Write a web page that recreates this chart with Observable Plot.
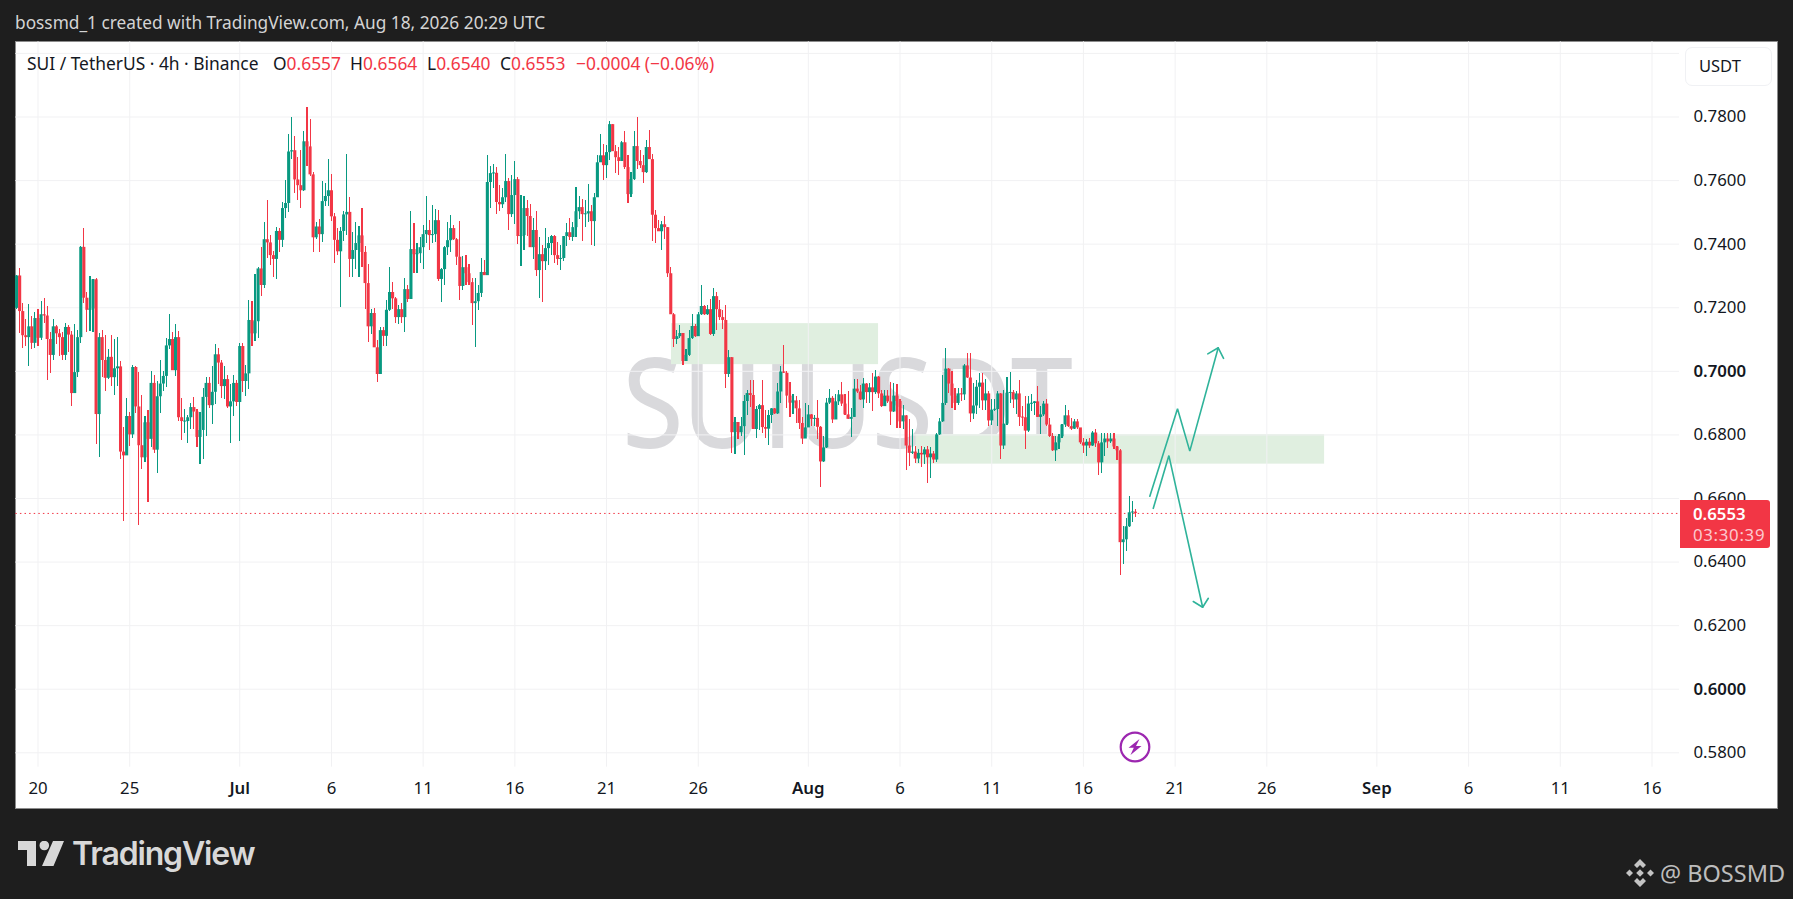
<!DOCTYPE html>
<html><head><meta charset="utf-8">
<script src="https://cdn.jsdelivr.net/npm/d3@7"></script>
<script src="https://cdn.jsdelivr.net/npm/@observablehq/plot@0.6"></script>
<style>
html,body{margin:0;padding:0;background:#1e1e1e;width:1793px;height:899px;overflow:hidden;font-family:"Noto Sans",sans-serif}
.abs{position:absolute;white-space:pre}
#pane{position:absolute;left:15px;top:41px;width:1763px;height:768px;box-sizing:border-box;background:#fff;border:1px solid #8c8c8c;border-width:1px 0 1px 1px}
#pane2{position:absolute;left:1777px;top:41px;width:1px;height:768px;background:#8c8c8c}
#wm{position:absolute;left:623px;top:318px;font:400 122px "Open Sans",sans-serif;color:#d9d9dc;-webkit-text-stroke:2px #d9d9dc;transform:scaleX(.895);transform-origin:0 0;line-height:1.36}
#chart{position:absolute;left:0;top:0}
.lg{top:52px;font-size:17.4px;line-height:22px;color:#131722}
.rd{color:#f23645}
</style></head><body>
<div id="pane"></div><div id="pane2"></div>
<div id="wm">SUIUSDT</div>
<div id="chart"></div>
<div class="abs" style="left:15px;top:10px;font-size:17.3px;line-height:26px;color:#d4d4d4">bossmd_1 created with TradingView.com, Aug 18, 2026 20:29 UTC</div>
<div class="abs lg" style="left:27px">SUI / TetherUS · 4h · Binance</div>
<div class="abs lg" style="left:273px">O<span class="rd">0.6557</span></div>
<div class="abs lg" style="left:350px">H<span class="rd">0.6564</span></div>
<div class="abs lg" style="left:427px">L<span class="rd">0.6540</span></div>
<div class="abs lg" style="left:500px">C<span class="rd">0.6553</span></div>
<div class="abs lg rd" style="left:576px">−0.0004 (−0.06%)</div>
<div class="abs" style="left:1685px;top:47px;width:85px;height:37px;border:1px solid #f0f1f4;border-radius:7px;background:#fff"></div>
<div class="abs" style="left:1699px;top:54px;font-size:16.5px;line-height:23px;color:#131722">USDT</div>
<div class="abs" style="left:1680px;top:500px;width:90px;height:48px;background:#f23645;border-radius:0 3px 3px 0"></div>
<div class="abs" style="left:1693px;top:502px;font-size:16.8px;line-height:23px;font-weight:600;color:#fff">0.6553</div>
<div class="abs" style="left:1693px;top:523px;font-size:16.8px;line-height:23px;letter-spacing:.7px;color:#fcc8cf">03:30:39</div>
<svg class="abs" style="left:1119px;top:731px" width="32" height="32" viewBox="0 0 32 32"><circle cx="16" cy="16" r="14.3" fill="#fff" stroke="#9c27b0" stroke-width="2.2"/><path d="M20.500 8 L9.500 16.800 L14.800 16.800 L11.500 24 L22.500 15 L17 15 Z" fill="#9c27b0"/></svg>
<svg class="abs" style="left:18px;top:841px" width="46" height="25" viewBox="0 0 46 25"><path d="M0 0H18V25H9V9H0Z M21.500 4.500 a4.800 4.800 0 1 0 9.600 0 a4.800 4.800 0 1 0 -9.600 0 Z M35 0H46L35.500 25H24Z" fill="#d8d8d8"/></svg>
<div class="abs" style="left:72px;top:832px;font:600 32px Inter,sans-serif;line-height:44px;letter-spacing:-1.15px;color:#d8d8d8">TradingView</div>
<svg class="abs" style="left:1626px;top:859px" width="28" height="28" viewBox="0 0 28 28"><g fill="#c4c4c4"><path d="M14 0l6 6-3 3-3-3-3 3-3-3z"/><path d="M14 28l6-6-3-3-3 3-3-3-3 3z"/><path d="M14 10.200l3.800 3.800-3.800 3.800-3.800-3.800z"/><path d="M3.500 10.500l3.500 3.500-3.500 3.500-3.500-3.500z"/><path d="M24.500 10.500l3.500 3.500-3.500 3.500-3.500-3.500z"/></g></svg>
<div class="abs" style="left:1660px;top:856px;font-size:23.5px;line-height:34px;color:#bdbdbd">@ BOSSMD</div>
<script>
// Candles: 4h, prices in ten-thousandths of a USDT, each open is the previous close
const firstOpen = 7198;
const close = [
7300,7188,7112,7106,7140,7088,7166,7104,7178,7174,7100,7050,7140,7118,7106,7050,7138,7114,6930,6996,7106,7390,7230,7192,7196,7288,6864,7106,7034,6978,7044,6980,7008,7014,6746,6734,6858,6800,7012,6888,6766,6728,6838,6786,6962,6752,6920,6960,6984,7080,7100,7002,7106,6854,6842,6842,6854,6886,6872,6792,6814,6918,6962,6892,6934,7052,7026,6952,6974,6888,6904,6962,6902,7078,6968,6992,7160,7118,7156,7322,7270,7414,7404,7364,7352,7440,7412,7512,7528,7690,7694,7602,7584,7568,7722,7706,7618,7420,7454,7430,7534,7550,7568,7486,7412,7376,7440,7492,7500,7352,7380,7402,7426,7374,7276,7140,7182,7074,6990,7128,7110,7192,7248,7228,
7169,7194,7169,7257,7226,7383,7367,7370,7389,7430,7443,7427,7430,7474,7289,7320,7389,7411,7449,7414,7359,7267,7326,7307,7279,7213,7219,7245,7311,7301,7594,7622,7623,7531,7524,7546,7597,7493,7553,7603,7424,7427,7512,7487,7389,7443,7317,7367,7345,7386,7402,7424,7364,7352,7355,7424,7436,7421,7452,7502,7515,7493,7495,7502,7471,7546,7656,7678,7647,7688,7776,7691,7672,7660,7719,7641,7556,7603,7707,7660,7647,7625,7704,7666,7491,7449,7439,7461,7452,7307,7178,7100,7109,7119,7031,7050,7103,7141,7109,7178,7204,7178,7194,7116,7235,7194,7169,7160,6990,7043,6807,6839,6807,6826,6905,6930,6924,6817,6880,6892,6823,6818,6861,
6882,6866,6935,6998,6994,6922,6900,6907,6882,6836,6787,6822,6863,6849,6852,6824,6715,6759,6900,6915,6847,6904,6926,6897,6863,6849,6855,6944,6935,6910,6960,6933,6948,6933,6982,6929,6889,6922,6904,6872,6922,6905,6841,6860,6765,6742,6746,6724,6742,6737,6753,6728,6740,6721,6800,6841,6899,7007,6960,6922,6899,6929,6926,7017,6979,6866,6891,6950,6963,6907,6929,6844,6878,6880,6929,6765,6834,6931,6933,6910,6929,6855,6854,6812,6897,6899,6904,6855,6863,6897,6831,6795,6750,6775,6794,6831,6860,6826,6818,6841,6822,6775,6765,6777,6765,6806,6772,6712,6775,6787,6778,6787,6762,6750,6461,6470,6511,6555,6557,6553];
const high = [
7302,7324,7214,7162,7210,7174,7184,7196,7220,7228,7204,7122,7164,7144,7132,7122,7150,7144,7124,7146,7128,7392,7448,7248,7298,7290,7292,7118,7128,7114,7068,7112,7100,7106,7032,6822,6914,6870,7018,7014,6996,6924,6858,6876,7000,6986,6968,7034,7000,7104,7178,7122,7148,7124,6914,6880,6860,6900,6918,6880,6872,6946,6982,6982,7014,7084,7072,7034,7014,6986,6958,6986,6970,7088,7088,7018,7222,7220,7304,7326,7390,7468,7536,7426,7376,7452,7448,7530,7600,7744,7798,7738,7672,7694,7756,7830,7792,7624,7468,7478,7596,7590,7666,7618,7496,7448,7452,7502,7682,7546,7436,7468,7456,7512,7392,7336,7194,7198,7096,7138,7138,7222,7326,7280,
7232,7207,7213,7292,7270,7502,7465,7402,7421,7458,7549,7474,7521,7509,7505,7322,7392,7468,7490,7458,7417,7471,7361,7364,7336,7291,7291,7270,7354,7348,7678,7644,7650,7641,7584,7574,7682,7606,7615,7660,7609,7553,7549,7537,7524,7482,7502,7421,7396,7449,7421,7427,7427,7404,7396,7424,7465,7480,7468,7577,7549,7542,7537,7589,7521,7559,7678,7744,7713,7710,7785,7776,7710,7704,7722,7754,7678,7626,7754,7798,7694,7678,7726,7757,7682,7505,7474,7471,7487,7452,7326,7181,7128,7144,7119,7068,7128,7178,7147,7185,7270,7207,7207,7226,7260,7248,7223,7191,7207,7065,7043,6855,6839,6855,6924,6940,6971,6971,6889,6896,6971,6877,6877,
6884,6884,6962,7015,7080,6998,6964,6926,6922,6907,6854,6899,6894,6863,6860,6907,6828,6795,6915,6944,6922,6926,6941,6964,6926,6936,6884,6975,6975,6956,6978,6962,6962,6994,7004,6985,6941,6941,6941,6964,6962,6957,6910,6891,6860,6847,6818,6765,6753,6763,6761,6763,6761,6747,6803,6852,6988,7072,7009,6998,6947,6947,6947,7023,7057,7057,6962,6970,6994,6994,6973,6936,6910,6912,6936,6929,6941,6981,6997,6941,6936,6970,6889,6920,6920,6926,6905,6951,6889,6905,6910,6852,6805,6795,6800,6834,6891,6878,6852,6849,6847,6821,6789,6786,6788,6810,6818,6779,6805,6805,6803,6805,6805,6765,6753,6512,6536,6605,6591,6564];
const low = [
7194,7118,7072,7078,7016,7068,7072,7078,7096,7150,6970,6994,7034,7084,7048,7034,7034,7060,6890,6932,6982,7088,7212,7122,7126,7122,6770,6728,6980,6936,6974,6952,6924,6952,6722,6528,6734,6764,6788,6868,6514,6690,6712,6588,6760,6740,6678,6868,6936,6950,7068,7002,6984,6842,6782,6804,6772,6816,6816,6760,6706,6722,6794,6882,6832,6896,6960,6914,6912,6882,6772,6858,6888,6780,6932,6920,6942,7078,7094,7102,7234,7262,7354,7334,7296,7288,7374,7388,7480,7500,7666,7558,7536,7512,7566,7644,7612,7374,7414,7374,7404,7518,7518,7472,7338,7364,7200,7408,7426,7294,7294,7320,7294,7326,7194,7090,7116,7074,6964,6990,7078,7078,7188,7194,
7150,7147,7150,7122,7216,7226,7308,7307,7340,7320,7401,7380,7402,7404,7282,7216,7270,7364,7373,7411,7333,7222,7254,7270,7270,7144,7075,7191,7232,7301,7301,7511,7574,7493,7502,7511,7532,7443,7485,7461,7399,7329,7380,7424,7389,7351,7298,7229,7216,7317,7333,7364,7340,7333,7317,7347,7392,7411,7408,7421,7477,7408,7452,7469,7395,7392,7546,7656,7600,7606,7663,7691,7622,7615,7660,7636,7527,7546,7600,7636,7639,7590,7622,7666,7408,7402,7439,7380,7416,7295,7178,7075,7084,7102,7018,7031,7046,7100,7106,7109,7175,7175,7175,7112,7109,7128,7160,7131,6946,6980,6741,6738,6785,6795,6735,6861,6887,6817,6789,6814,6804,6788,6767,
6836,6863,6863,6899,6994,6884,6854,6863,6836,6816,6771,6794,6826,6826,6826,6784,6633,6713,6756,6897,6836,6847,6894,6889,6860,6847,6792,6855,6931,6908,6882,6899,6899,6873,6926,6915,6887,6889,6899,6831,6872,6821,6819,6816,6688,6702,6737,6711,6711,6699,6706,6646,6664,6709,6713,6797,6838,6892,6931,6884,6878,6894,6905,6907,6978,6839,6847,6863,6884,6878,6878,6828,6831,6873,6828,6724,6753,6831,6899,6884,6863,6826,6826,6753,6807,6873,6860,6854,6802,6857,6828,6792,6747,6716,6753,6789,6824,6824,6813,6816,6818,6771,6740,6732,6758,6763,6761,6671,6679,6732,6758,6774,6753,6721,6358,6391,6432,6508,6524,6540];

const yTicks = [0.58,0.62,0.64,0.66,0.68,0.72,0.74,0.76,0.78];
const yMajor = [0.60,0.70];
const yGrid = [0.58,0.60,0.62,0.64,0.66,0.68,0.70,0.72,0.74,0.76,0.78,0.80];
const xDays = [0,5,11,16,21,26,31,36,42,47,52,57,62,67,73,78,83,88];
const xLabels = ["20","25","Jul","6","11","16","21","26","Aug","6","11","16","21","26","Sep","6","11","16"];
const lastPrice = 0.6553;

const zoneDays1 = [34.54,45.83], zonePrices1 = [0.7021,0.7150];
const zoneDays2 = [47.88,70.15], zonePrices2 = [0.6708,0.6801];

const upDays   = [60.62,62.13,62.80,64.35];
const upPrices = [0.6607,0.6882,0.6749,0.7074];
const upHeadDays   = [63.78,64.35,64.64];
const upHeadPrices = [0.7055,0.7074,0.7041];
const downDays   = [60.81,61.66,63.50];
const downPrices = [0.6569,0.6735,0.6258];
const downHeadDays   = [62.99,63.50,63.81];
const downHeadPrices = [0.6276,0.6258,0.6286];

const GREEN="#089981", RED="#f23645", TEAL="#2fb39a", ZONE="#e0efe0", GRID="#f1f1f3", INK="#131722";
const day0 = Date.UTC(2026,5,20);
const d = n => new Date(day0 + n*864e5);
const t0 = Date.UTC(2026,5,18,20);
const candles = close.map((c,i)=>{
  const o=(i?close[i-1]:firstOpen)/1e4, cl=c/1e4;
  const mid=(o+cl)/2, half=Math.max(Math.abs(o-cl)/2,0.00016);
  return {date:new Date(t0+i*4*36e5),open:o,close:cl,high:high[i]/1e4,low:low[i]/1e4,top:mid+half,bot:mid-half,color:cl<o?RED:GREEN};
});
const pts=(ds,ps)=>ds.map((n,i)=>({x:d(n),y:ps[i]}));
const tickDates=xDays.map(d);
const labelOf=new Map(tickDates.map((t,i)=>[+t,xLabels[i]]));
const monthTicks=tickDates.filter(t=>/[A-Z]/.test(labelOf.get(+t)));
const dayTicks=tickDates.filter(t=>!/[A-Z]/.test(labelOf.get(+t)));
const zones=[{x1:d(zoneDays1[0]),x2:d(zoneDays1[1]),y1:zonePrices1[0],y2:zonePrices1[1]},
             {x1:d(zoneDays2[0]),x2:d(zoneDays2[1]),y1:zonePrices2[0],y2:zonePrices2[1]}];
const F="Noto Sans";
const chart=Plot.plot({
  width:1793,height:899,marginLeft:15.3,marginRight:114,marginTop:41.3,marginBottom:132.3,
  style:{background:"transparent",fontFamily:F,maxWidth:"none"},
  x:{type:"utc",domain:[d(-1.2105),d(89.5)]},
  y:{domain:[0.57547,0.80366]},
  marks:[
    Plot.rect(zones,{x1:"x1",x2:"x2",y1:"y1",y2:"y2",fill:ZONE}),
    Plot.gridY(yGrid,{stroke:GRID,strokeOpacity:1}),
    Plot.gridX(tickDates,{stroke:GRID,strokeOpacity:1}),
    Plot.ruleY([lastPrice],{stroke:RED,strokeDasharray:"1.5 3.1",strokeWidth:1}),
    Plot.ruleX(candles,{x:"date",y1:"low",y2:"high",stroke:"color",strokeWidth:1.1,shapeRendering:"crispEdges"}),
    Plot.ruleX(candles,{x:"date",y1:"bot",y2:"top",stroke:"color",strokeWidth:3.1}),
    Plot.line(pts(upDays,upPrices),{x:"x",y:"y",stroke:TEAL,strokeWidth:1.6,strokeLinejoin:"miter"}),
    Plot.line(pts(upHeadDays,upHeadPrices),{x:"x",y:"y",stroke:TEAL,strokeWidth:1.6}),
    Plot.line(pts(downDays,downPrices),{x:"x",y:"y",stroke:TEAL,strokeWidth:1.6,strokeLinejoin:"miter"}),
    Plot.line(pts(downHeadDays,downHeadPrices),{x:"x",y:"y",stroke:TEAL,strokeWidth:1.6}),
    Plot.axisY(yTicks,{anchor:"right",tickSize:0,tickPadding:14,label:null,tickFormat:v=>v.toFixed(4),fontSize:16.8,fill:INK}),
    Plot.axisY(yMajor,{anchor:"right",tickSize:0,tickPadding:14,label:null,tickFormat:v=>v.toFixed(4),fontSize:16.8,fontWeight:600,fill:INK}),
    Plot.axisX(dayTicks,{anchor:"bottom",tickSize:0,tickPadding:15,label:null,tickFormat:t=>labelOf.get(+t),fontSize:16.8,fill:INK}),
    Plot.axisX(monthTicks,{anchor:"bottom",tickSize:0,tickPadding:15,label:null,tickFormat:t=>labelOf.get(+t),fontSize:16.8,fontWeight:600,fill:INK})
  ]
});
document.getElementById("chart").appendChild(chart);
</script>
</body></html>
